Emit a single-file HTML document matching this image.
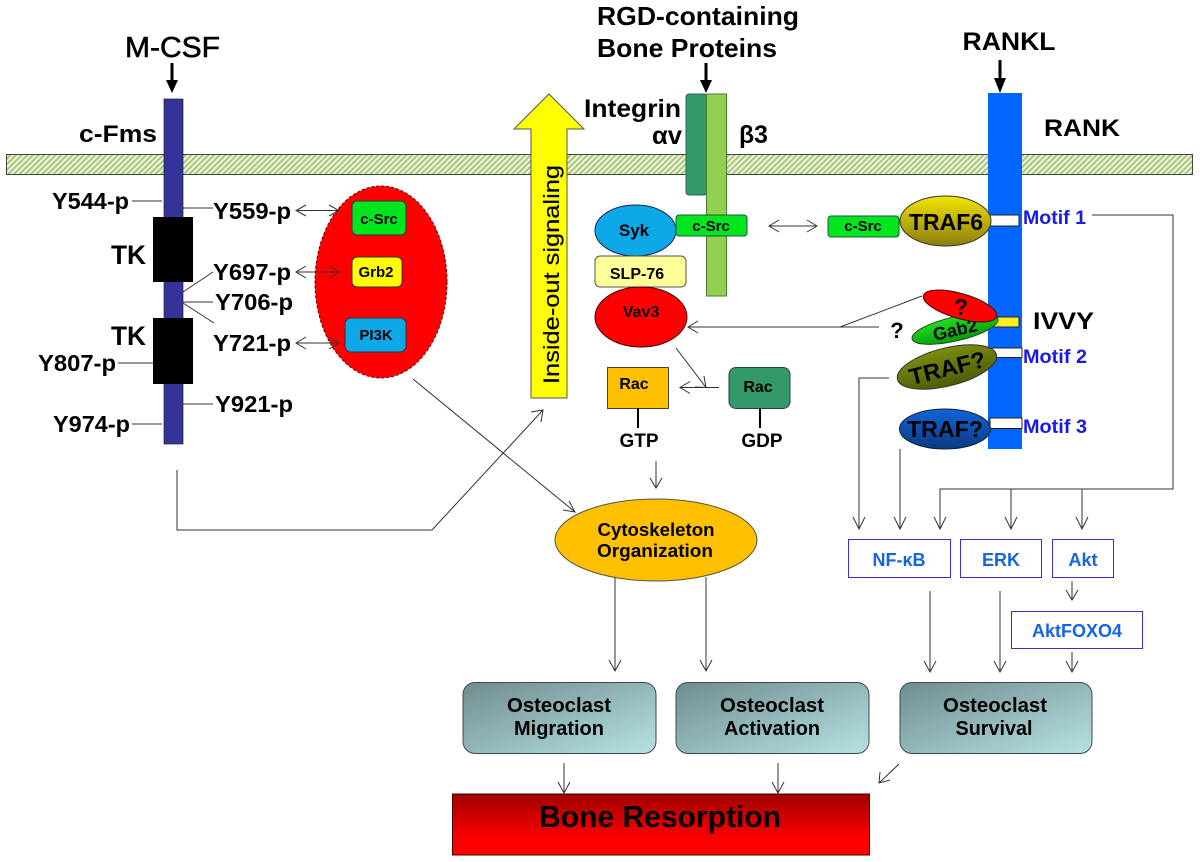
<!DOCTYPE html>
<html>
<head>
<meta charset="utf-8">
<style>
html,body{margin:0;padding:0;background:#fff;width:1200px;height:862px;overflow:hidden}
svg{display:block}
text{font-family:"Liberation Sans",sans-serif;fill:#000}
.b{font-weight:bold}
.l{stroke:#333;stroke-width:1;fill:none}
.h{stroke:#333;stroke-width:1;fill:none}
.m{fill:#1a1ae6;font-weight:bold;font-size:19px}
.s{fill:#1464e6;font-weight:bold;font-size:18px}
</style>
</head>
<body>
<svg width="1200" height="862" viewBox="0 0 1200 862" xmlns="http://www.w3.org/2000/svg">
<defs>
<pattern id="hatch" width="4" height="4" patternUnits="userSpaceOnUse" patternTransform="rotate(-45)">
<rect width="4" height="4" fill="#eef5dc"/>
<rect width="4" height="2" fill="#a9c77c"/>
</pattern>
<linearGradient id="teal" x1="0" y1="0" x2="1" y2="1">
<stop offset="0" stop-color="#6f8c8e"/><stop offset="1" stop-color="#b6e2e4"/>
</linearGradient>
<linearGradient id="red" x1="0" y1="0" x2="0" y2="1">
<stop offset="0" stop-color="#a00000"/><stop offset="0.75" stop-color="#ff0000"/><stop offset="1" stop-color="#ff0000"/>
</linearGradient>
<linearGradient id="t6" x1="0" y1="0" x2="0" y2="1">
<stop offset="0" stop-color="#f2e500"/><stop offset="1" stop-color="#8a7d10"/>
</linearGradient>
<linearGradient id="t2" x1="0" y1="0" x2="0" y2="1">
<stop offset="0" stop-color="#7d8c10"/><stop offset="1" stop-color="#4d5c08"/>
</linearGradient>
<linearGradient id="t3" x1="0" y1="0" x2="0" y2="1">
<stop offset="0" stop-color="#0f66d8"/><stop offset="1" stop-color="#0a3a80"/>
</linearGradient>
<linearGradient id="gab" x1="0" y1="0" x2="0" y2="1">
<stop offset="0" stop-color="#1fe01f"/><stop offset="1" stop-color="#0a9a0a"/>
</linearGradient>
</defs>

<!-- membrane -->
<rect x="6.5" y="154.5" width="1186" height="20" fill="url(#hatch)" stroke="#444" stroke-width="1"/>

<!-- c-Fms -->
<rect x="164" y="99" width="19" height="345" fill="#333399" stroke="#223" stroke-width="0.7"/>
<rect x="153" y="217" width="40" height="65" fill="#000"/>
<rect x="153" y="318" width="40" height="66" fill="#000"/>
<text x="125" y="57" font-size="29" textLength="95" lengthAdjust="spacingAndGlyphs" stroke="#000" stroke-width="0.6">M-CSF</text>
<path d="M172 63V82" stroke="#000" stroke-width="3"/><path d="M166 80H178L172 93Z" fill="#000"/>
<text class="b" x="79" y="142" font-size="24" textLength="78" lengthAdjust="spacingAndGlyphs">c-Fms</text>

<text class="b" x="52" y="209" font-size="23" textLength="77" lengthAdjust="spacingAndGlyphs">Y544-p</text>
<text class="b" x="213" y="219" font-size="23" textLength="78" lengthAdjust="spacingAndGlyphs">Y559-p</text>
<text class="b" x="213" y="280" font-size="23" textLength="78" lengthAdjust="spacingAndGlyphs">Y697-p</text>
<text class="b" x="215" y="310" font-size="23" textLength="78" lengthAdjust="spacingAndGlyphs">Y706-p</text>
<text class="b" x="213" y="351" font-size="23" textLength="78" lengthAdjust="spacingAndGlyphs">Y721-p</text>
<text class="b" x="38" y="371" font-size="23" textLength="78" lengthAdjust="spacingAndGlyphs">Y807-p</text>
<text class="b" x="215" y="412" font-size="23" textLength="78" lengthAdjust="spacingAndGlyphs">Y921-p</text>
<text class="b" x="53" y="432" font-size="23" textLength="77" lengthAdjust="spacingAndGlyphs">Y974-p</text>
<text class="b" x="111" y="264" font-size="27" textLength="35" lengthAdjust="spacingAndGlyphs">TK</text>
<text class="b" x="111" y="345" font-size="27" textLength="35" lengthAdjust="spacingAndGlyphs">TK</text>

<path class="l" d="M132 201H162M183 208H213M183 292L213 272M183 302H213M183 303L214 323M118 363H153M183 404H213M132 424H162"/>

<!-- red ellipse -->
<ellipse cx="381" cy="282" rx="66" ry="96" fill="#ff0000" stroke="#600" stroke-width="1" stroke-dasharray="3 2"/>
<rect x="352" y="201" width="54" height="34" rx="5" fill="#00e61e" stroke="#333"/>
<text class="b" x="379" y="224" font-size="15" text-anchor="middle" fill="#063">c-Src</text>
<rect x="352" y="257" width="50" height="30" rx="5" fill="#ffff00" stroke="#333"/>
<text class="b" x="376" y="277" font-size="15" text-anchor="middle">Grb2</text>
<rect x="345" y="318" width="61" height="34" rx="6" fill="#0ca8e8" stroke="#333"/>
<text class="b" x="376" y="340" font-size="15" text-anchor="middle" fill="#012">PI3K</text>

<!-- double arrows left -->
<path class="h" d="M296 210.5H338M306 205L296 210.5L306 216M329 205L339 210.5L329 216"/>
<path class="h" d="M296 272H338M306 266L296 272L306 278M329 266L339 272L329 278"/>
<path class="h" d="M296 343H338M306 337L296 343L306 349M329 337L339 343L329 349"/>

<!-- connectors from left -->
<path class="l" d="M413 379L575 512"/>
<path class="l" d="M563 510L575 512L569 501"/>
<path class="l" d="M177 470V530H432L543 410"/>
<path class="l" d="M531 412L543 410L541 422"/>

<!-- yellow arrow -->
<path d="M531 398V129H514L549 94L584 129H567V398Z" fill="#ffff00" stroke="#555" stroke-width="1"/>
<text transform="translate(559,384) rotate(-90)" font-size="22" textLength="219" lengthAdjust="spacingAndGlyphs" stroke="#000" stroke-width="0.2">Inside-out signaling</text>

<!-- integrin -->
<text class="b" x="597" y="25" font-size="26" textLength="202" lengthAdjust="spacingAndGlyphs">RGD-containing</text>
<text class="b" x="597" y="57" font-size="26" textLength="180" lengthAdjust="spacingAndGlyphs">Bone Proteins</text>
<path d="M706 63V82" stroke="#000" stroke-width="3"/><path d="M700 80H712L706 93Z" fill="#000"/>
<rect x="686" y="94" width="21" height="101" rx="3" fill="#339966" stroke="#2a6a50"/>
<rect x="706.5" y="94" width="20" height="202" fill="#92d050" stroke="#4d7a33"/>
<text class="b" x="584" y="117" font-size="25" textLength="97" lengthAdjust="spacingAndGlyphs">Integrin</text>
<text class="b" x="652" y="144" font-size="25" textLength="30" lengthAdjust="spacingAndGlyphs">αv</text>
<text class="b" x="739" y="143" font-size="25" textLength="29" lengthAdjust="spacingAndGlyphs">β3</text>

<ellipse cx="635.5" cy="230.5" rx="40.5" ry="25.5" fill="#0ca8e8" stroke="#224"/>
<text class="b" x="634" y="236" font-size="17" text-anchor="middle" fill="#012">Syk</text>
<rect x="676" y="215" width="71" height="21" rx="3" fill="#00e61e" stroke="#254"/>
<text class="b" x="711" y="231" font-size="15" text-anchor="middle" fill="#063">c-Src</text>
<rect x="595" y="256" width="91" height="31" rx="5" fill="#ffff99" stroke="#555"/>
<text class="b" x="637" y="279" font-size="16" text-anchor="middle">SLP-76</text>
<ellipse cx="641" cy="317" rx="46" ry="30" fill="#ff0000" stroke="#400"/>
<text class="b" x="641" y="317" font-size="16" text-anchor="middle" fill="#300">Vav3</text>

<path class="h" d="M769 226H817M779 220L769 226L779 232M807 220L817 226L807 232"/>

<!-- Rac -->
<rect x="607.5" y="367.5" width="61" height="41" fill="#ffc000" stroke="#444"/>
<text class="b" x="634" y="389" font-size="16" text-anchor="middle">Rac</text>
<rect x="729" y="367.5" width="61" height="41" rx="7" fill="#339966" stroke="#244"/>
<text class="b" x="758" y="392" font-size="16" text-anchor="middle">Rac</text>
<path d="M638 408V428M760 408V428" stroke="#000" stroke-width="2"/>
<text class="b" x="639" y="447" font-size="19" text-anchor="middle">GTP</text>
<text class="b" x="762" y="447" font-size="19" text-anchor="middle">GDP</text>
<path class="l" d="M719 387.5H680M690 381.5L680 387.5L690 393.5"/>
<path class="l" d="M676 348L706 387.5M695 387L706 387.5L704 376"/>
<path class="l" d="M656 461V488M650 478L656 488L662 478"/>

<!-- Vav3 arrow from Gab -->
<path class="l" d="M688 327H840L922 296M840 327H879M698 321L688 327L698 333"/>
<text class="b" x="897" y="338" font-size="22" text-anchor="middle">?</text>

<!-- RANK -->
<text class="b" x="1009" y="50" font-size="25" text-anchor="middle" textLength="93" lengthAdjust="spacingAndGlyphs">RANKL</text>
<path d="M1000 60V80" stroke="#000" stroke-width="3"/><path d="M994 78H1006L1000 93Z" fill="#000"/>
<rect x="988" y="93" width="34" height="356" fill="#0066ff"/>
<text class="b" x="1044" y="136" font-size="24" textLength="76" lengthAdjust="spacingAndGlyphs">RANK</text>

<rect x="990" y="215" width="29" height="11" fill="#fff" stroke="#222"/>
<rect x="992" y="317" width="27" height="10" fill="#ffee22" stroke="#222"/>
<rect x="992" y="348" width="30" height="9.5" fill="#fff" stroke="#222"/>
<rect x="990" y="418" width="32" height="10.5" fill="#fff" stroke="#222"/>

<text class="m" x="1023" y="224" textLength="63" lengthAdjust="spacingAndGlyphs">Motif 1</text>
<text class="m" x="1023" y="363" textLength="64" lengthAdjust="spacingAndGlyphs">Motif 2</text>
<text class="m" x="1023" y="433" textLength="64" lengthAdjust="spacingAndGlyphs">Motif 3</text>
<text class="b" x="1033" y="329" font-size="24" textLength="61" lengthAdjust="spacingAndGlyphs">IVVY</text>

<rect x="828" y="216" width="71" height="21" rx="3" fill="#00e61e" stroke="#254"/>
<text class="b" x="863" y="231" font-size="15" text-anchor="middle" fill="#063">c-Src</text>
<ellipse cx="945.5" cy="221" rx="45.5" ry="25" fill="url(#t6)" stroke="#333"/>
<text class="b" x="946" y="230" font-size="23" text-anchor="middle" textLength="74" lengthAdjust="spacingAndGlyphs">TRAF6</text>

<g transform="rotate(-13 955 329)">
<ellipse cx="955" cy="329" rx="44" ry="12" fill="url(#gab)" stroke="#242"/>
<text class="b" x="955" y="336" font-size="18" text-anchor="middle">Gab2</text>
</g>
<g transform="rotate(16 960 306)">
<ellipse cx="960" cy="306" rx="38" ry="12.5" fill="#ff0000" stroke="#400"/>
</g>
<text class="b" x="961" y="315" font-size="23" text-anchor="middle" fill="#200">?</text>

<g transform="rotate(-14 947 367)">
<ellipse cx="947" cy="367" rx="51" ry="19" fill="url(#t2)" stroke="#333"/>
<text class="b" x="947" y="376" font-size="23" text-anchor="middle" textLength="78" lengthAdjust="spacingAndGlyphs">TRAF?</text>
</g>
<ellipse cx="945" cy="429" rx="45.5" ry="20" fill="url(#t3)" stroke="#123"/>
<text class="b" x="945" y="437" font-size="23" text-anchor="middle" textLength="76" lengthAdjust="spacingAndGlyphs">TRAF?</text>

<!-- right connectors -->
<path class="l" d="M1092 215H1173V489H940V529"/>
<path class="l" d="M934 517L940 529L946 517"/>
<path class="l" d="M1011 489V529M1005 517L1011 529L1017 517"/>
<path class="l" d="M1082 489V529M1076 517L1082 529L1088 517"/>
<path class="l" d="M889 378H859V529M853 517L859 529L865 517"/>
<path class="l" d="M900 449V529M894 517L900 529L906 517"/>

<!-- signal boxes -->
<rect x="848.5" y="539.5" width="102" height="38" fill="#fff" stroke="#3333cc"/>
<text class="s" x="899" y="566" text-anchor="middle">NF-κB</text>
<rect x="960.5" y="539.5" width="81" height="38" fill="#fff" stroke="#3333cc"/>
<text class="s" x="1001" y="566" text-anchor="middle">ERK</text>
<rect x="1052.5" y="539.5" width="61" height="38" fill="#fff" stroke="#3333cc"/>
<text class="s" x="1083" y="566" text-anchor="middle">Akt</text>
<path class="l" d="M1072 581V600M1066 590L1072 600L1078 590"/>
<rect x="1011.5" y="611.5" width="131" height="37" fill="#fff" stroke="#3333cc"/>
<text class="s" x="1077" y="637" text-anchor="middle">AktFOXO4</text>

<!-- Cytoskeleton -->
<ellipse cx="656" cy="540" rx="101" ry="41" fill="#ffc000" stroke="#554"/>
<text class="b" x="656" y="536" font-size="18" text-anchor="middle" textLength="117" lengthAdjust="spacingAndGlyphs">Cytoskeleton</text>
<text class="b" x="655" y="557" font-size="18" text-anchor="middle" textLength="116" lengthAdjust="spacingAndGlyphs">Organization</text>

<path class="l" d="M615 577V671M609 660L615 671L621 660"/>
<path class="l" d="M706 577V671M700 660L706 671L712 660"/>
<path class="l" d="M930 591V672M924 661L930 672L936 661"/>
<path class="l" d="M1000 591V672M994 661L1000 672L1006 661"/>
<path class="l" d="M1072 652V672M1066 661L1072 672L1078 661"/>

<!-- Osteoclast boxes -->
<rect x="463" y="682.5" width="193" height="71" rx="12" fill="url(#teal)" stroke="#445"/>
<rect x="676" y="682.5" width="193" height="71" rx="12" fill="url(#teal)" stroke="#445"/>
<rect x="900" y="682.5" width="192" height="71" rx="12" fill="url(#teal)" stroke="#445"/>
<text class="b" x="559" y="712" font-size="20" text-anchor="middle" textLength="104" lengthAdjust="spacingAndGlyphs">Osteoclast</text>
<text class="b" x="559" y="735" font-size="20" text-anchor="middle" textLength="90" lengthAdjust="spacingAndGlyphs">Migration</text>
<text class="b" x="772" y="712" font-size="20" text-anchor="middle" textLength="104" lengthAdjust="spacingAndGlyphs">Osteoclast</text>
<text class="b" x="772" y="735" font-size="20" text-anchor="middle" textLength="96" lengthAdjust="spacingAndGlyphs">Activation</text>
<text class="b" x="995" y="712" font-size="20" text-anchor="middle" textLength="104" lengthAdjust="spacingAndGlyphs">Osteoclast</text>
<text class="b" x="994" y="735" font-size="20" text-anchor="middle" textLength="77" lengthAdjust="spacingAndGlyphs">Survival</text>

<!-- Bone resorption -->
<rect x="452.5" y="794" width="417" height="61" fill="url(#red)" stroke="#400"/>
<text class="b" x="660" y="827" font-size="31" text-anchor="middle" textLength="242" lengthAdjust="spacingAndGlyphs" fill="#100">Bone Resorption</text>
<path class="l" d="M564 763V793M558 782L564 793L570 782"/>
<path class="l" d="M778 763V793M772 782L778 793L784 782"/>
<path class="l" d="M899 764L879 783M880 772L879 783L890 780"/>
</svg>
</body>
</html>
